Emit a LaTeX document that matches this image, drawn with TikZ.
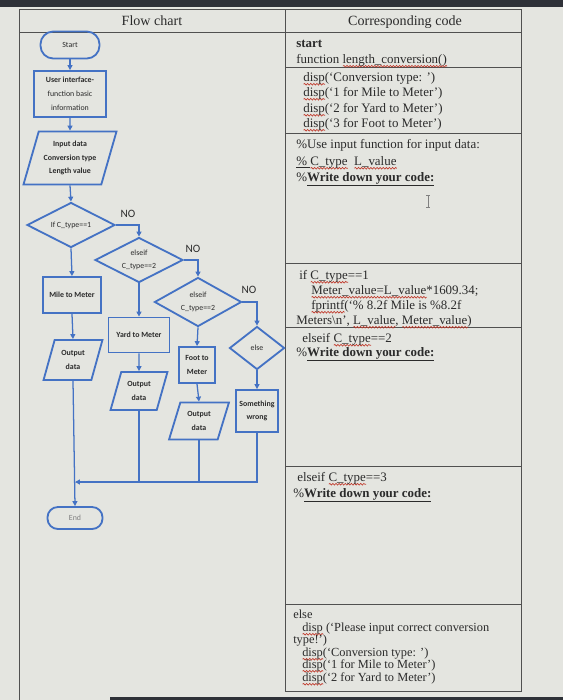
\documentclass[tikz,border=0pt]{standalone}
\usepackage{fontspec}
\setmainfont{Liberation Serif}
\newfontfamily\flowfont{Carlito}
\usepackage{tikz}
\usetikzlibrary{shapes.geometric, arrows.meta, positioning, calc, decorations.pathmorphing}
\usepackage{xcolor}
\definecolor{flowblue}{HTML}{4472C4}
\definecolor{paper}{HTML}{E4E5E0}
\definecolor{rulegray}{HTML}{505050}
\definecolor{ink}{HTML}{2B2B2B}
\definecolor{spellred}{HTML}{C0392B}
\definecolor{screen}{HTML}{2E3138}
\newsavebox\wordbox
\newcommand\spell[1]{\sbox\wordbox{#1}\rlap{\tikz[baseline=0pt]\draw[spellred, line width=0.45pt, decorate, decoration={snake, amplitude=0.6pt, segment length=2.2pt}] (0pt,-2.3pt) -- (\the\wd\wordbox,-2.3pt);}\usebox\wordbox}

\tikzset{
  flowbox/.style={draw=flowblue, line width=1.3pt, align=center, inner sep=1pt, text=ink, font=\flowfont\fontsize{5.6}{9.8}\selectfont},
  term/.style={flowbox, rounded corners=0.32cm},
  proc/.style={flowbox, rectangle},
  io/.style={flowbox, trapezium, trapezium left angle=70, trapezium right angle=110, trapezium stretches=true},
  test/.style={flowbox, diamond, aspect=2, inner sep=0pt},
  arrowline/.style={flowblue, line width=0.9pt, -{Triangle[length=3.5pt,width=3.5pt]}},
  joinline/.style={flowblue, line width=0.9pt},
  nolabel/.style={font=\flowfont\fontsize{8}{9}\selectfont, text=ink},
  code/.style={font=\fontsize{9.2}{10.6}\selectfont, text=ink, inner sep=0pt, anchor=base west},
  cell/.style={draw=rulegray, line width=0.6pt},
}

\begin{document}
\begin{tikzpicture}[x=0.025cm, y=-0.025cm]
        \useasboundingbox (0,0) rectangle (563,700);
        \fill[paper] (0,0) rectangle (563,700);
        \fill[screen] (0,0) rectangle (563,7);
        \fill[screen] (110,697) rectangle (563,700);

        \draw[cell] (19,700) -- (19,9) -- (521,9) -- (521,691) -- (285,691);
        \draw[cell] (285,9) -- (285,691);
        \draw[cell] (19,32) -- (521,32);
        \foreach \y in {67,133,263,327,466,604}{
          \draw[cell] (285,\y) -- (521,\y);
        }
        \node[font=\fontsize{10}{12}\selectfont, text=ink] (flowhead) at (152,21) {Flow chart};
        \node[font=\fontsize{10}{12}\selectfont, text=ink] (codehead) at (405,22) {Corresponding code};

        \node[term, minimum width=1.475cm, minimum height=0.675cm] (start) at (70,45) {Start};
        \node[proc, minimum width=1.8cm, minimum height=1.15cm] (ui) at (70,94) {\textbf{User interface-}\\function basic\\information};
        \node[io, minimum width=2.325cm, minimum height=1.325cm] (inp) at (70,158) {\textbf{Input data}\\\textbf{Conversion type}\\\textbf{Length value}};
        \node[test, minimum width=2.2cm, minimum height=1.125cm] (if1) at (71,225) {If C\_type==1};
        \node[test, minimum width=2.2cm, minimum height=1.125cm] (if2) at (139,260) {elseif\\C\_type==2};
        \node[test, minimum width=2.175cm, minimum height=1.225cm] (if3) at (198,302) {elseif\\C\_type==2};
        \node[test, minimum width=1.375cm, minimum height=1.075cm] (els) at (257,348) {else};
        \node[proc, minimum width=1.45cm, minimum height=0.9cm] (mile) at (72,295) {\textbf{Mile to Meter}};
        \node[proc, minimum width=1.525cm, minimum height=0.875cm] (yard) at (139,335) {\textbf{Yard to Meter}};
        \node[proc, minimum width=0.9cm, minimum height=0.9cm] (foot) at (197,365) {\textbf{Foot to}\\\textbf{Meter}};
        \node[proc, minimum width=1.05cm, minimum height=1.05cm] (wrong) at (257,411) {\textbf{Something}\\\textbf{wrong}};
        \node[io, minimum width=1.475cm, minimum height=1.0cm] (out1) at (73,360) {\textbf{Output}\\\textbf{data}};
        \node[io, minimum width=1.425cm, minimum height=0.95cm] (out2) at (139,391) {\textbf{Output}\\\textbf{data}};
        \node[io, minimum width=1.5cm, minimum height=0.925cm] (out3) at (199,421) {\textbf{Output}\\\textbf{data}};
        \node[term, minimum width=1.375cm, minimum height=0.55cm, rounded corners=0.26cm, text=gray] (stop) at (75,518) {End};
        \coordinate (merge) at (75,482);

        \draw[arrowline] (start) -- (ui);
        \draw[arrowline] (ui) -- (inp);
        \draw[arrowline] (inp.south) -- (if1.north);
        \draw[arrowline] (if1.east) -| (if2.north);
        \draw[arrowline] (if2.east) -| (if3.north);
        \draw[arrowline] (if3.east) -| (els.north);
        \draw[arrowline] (if1.south) -- (mile.north);
        \draw[arrowline] (if2.south) -- (yard.north);
        \draw[arrowline] (if3.south) -- (foot.north);
        \draw[arrowline] (els.south) -- (wrong.north);
        \draw[arrowline] (mile.south) -- (out1.north);
        \draw[arrowline] (yard.south) -- (out2.north);
        \draw[arrowline] (foot.south) -- (out3.north);
        \draw[arrowline] (out1.south) -- (stop.north);
        \draw[joinline] (out2.south) -- (out2.south |- merge);
        \draw[joinline] (out3.south) -- (out3.south |- merge);
        \draw[arrowline] (wrong.south) |- (merge);
        \node[nolabel] (no1) at (128,214) {NO};
        \node[nolabel] (no2) at (193,249) {NO};
        \node[nolabel] (no3) at (249,290) {NO};

        \foreach \cx/\cy/\ctext [count=\n] in {
          296/47/{\textbf{start}},
          296/63/{function \spell{length\_conversion()}},
          303/81/{\spell{disp}(`Conversion type: ')},
          303/96/{\spell{disp}(`1 for Mile to Meter')},
          303/112/{\spell{disp}(`2 for Yard to Meter')},
          303/127/{\spell{disp}(`3 for Foot to Meter')},
          296/148/{\%Use input function for input data:},
          296/165/{\underline{\%\ }\spell{C\_type}\ \ \spell{L\_value}},
          296/181/{\%\underline{\textbf{Write down your code:}}},
          299/279/{if \spell{C\_type}==1},
          311/294/{\spell{Meter\_value=L\_value}*1609.34;},
          311/309/{\spell{fprintf}(`\% 8.2f Mile is \%8.2f},
          296/324/{Meters\textbackslash n', \spell{L\_value}, \spell{Meter\_value})},
          302/342/{elseif \spell{C\_type}==2},
          296/356/{\%\underline{\textbf{Write down your code:}}},
          297/481/{elseif \spell{C\_type}==3},
          293/497/{\%\underline{\textbf{Write down your code:}}}}{
          \node[code] (line\n) at (\cx,\cy) {\ctext};
        }
        \foreach \cx/\cy/\ctext [count=\n] in {
          293/618/{else},
          302/631/{\spell{disp} (`Please input correct conversion},
          293/643/{type!')},
          302/656/{\spell{disp}(`Conversion type: ')},
          302/668/{\spell{disp}(`1 for Mile to Meter')},
          302/681/{\spell{disp}(`2 for Yard to Meter')}}{
          \node[code, font=\fontsize{8.8}{10}\selectfont] (tail\n) at (\cx,\cy) {\ctext};
        }
        \draw[gray, line width=0.5pt] (428,195) -- (428,207) (426,195) -- (430,195) (426,207) -- (430,207);
      \end{tikzpicture}
\end{document}
